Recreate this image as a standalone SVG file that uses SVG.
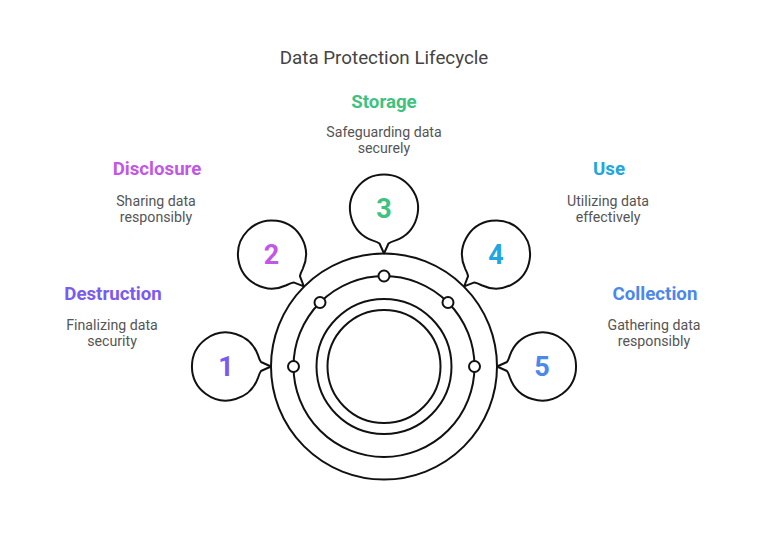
<svg xmlns="http://www.w3.org/2000/svg" width="768" height="536" viewBox="0 0 768 536">
<defs>
<style>
.ring{fill:none;stroke:#111;stroke-width:2}
.dot{fill:#fff;stroke:#111;stroke-width:2}
.bub{fill:#fff;stroke:#111;stroke-width:2;stroke-linejoin:round}
.num{font-family:Roboto,"Liberation Sans",sans-serif;font-weight:700;font-size:27px;text-anchor:middle}
.head{font-family:Roboto,"Liberation Sans",sans-serif;font-weight:700;font-size:18.7px;text-anchor:middle}
.desc{font-family:Roboto,"Liberation Sans",sans-serif;font-size:14.2px;fill:#555;text-anchor:middle}
.title{font-family:Roboto,"Liberation Sans",sans-serif;font-size:18.8px;fill:#444;text-anchor:middle}
</style>
<path id="bubble" d="M31.9,-11.6 Q33.5,-6.5 35,-4.5 L45,0 L35,4.5 Q33.5,6.5 31.9,11.6 A34 34 0 1 1 31.9,-11.6 Z"/>
</defs>
<rect width="768" height="536" fill="#fff"/>
<text class="title" x="384" y="64">Data Protection Lifecycle</text>

<g id="rings">
<circle class="ring" cx="384" cy="366.5" r="113"/>
<circle class="ring" cx="384" cy="366.5" r="90.5"/>
<circle class="ring" cx="384" cy="366.5" r="67.5"/>
<circle class="ring" cx="384" cy="366.5" r="56.5"/>
</g>
<g id="connectors">
<circle class="dot" cx="293.5" cy="366.5" r="5.5"/>
<circle class="dot" cx="320" cy="302.5" r="5.5"/>
<circle class="dot" cx="384" cy="276" r="5.5"/>
<circle class="dot" cx="448" cy="302.5" r="5.5"/>
<circle class="dot" cx="474.5" cy="366.5" r="5.5"/>
</g>

<g id="node1">
<use href="#bubble" class="bub" transform="translate(226,366.5)"/>
<text class="num" x="226" y="376" fill="#7a5af0">1</text>
<text class="head" x="113" y="300" fill="#7a5af0">Destruction</text>
<text class="desc" x="112" y="329.5">Finalizing data</text>
<text class="desc" x="112" y="346">security</text>
</g>
<g id="node2">
<use href="#bubble" class="bub" transform="translate(272,254.5) rotate(45)"/>
<text class="num" x="271.5" y="264" fill="#c157e6">2</text>
<text class="head" x="157" y="175" fill="#c157e6">Disclosure</text>
<text class="desc" x="156" y="205.5">Sharing data</text>
<text class="desc" x="156" y="221.5">responsibly</text>
</g>
<g id="node3">
<use href="#bubble" class="bub" transform="translate(384,208.5) rotate(90)"/>
<text class="num" x="384" y="218" fill="#3ec27f">3</text>
<text class="head" x="384" y="108" fill="#3ec27f">Storage</text>
<text class="desc" x="384" y="136.5">Safeguarding data</text>
<text class="desc" x="384" y="153">securely</text>
</g>
<g id="node4">
<use href="#bubble" class="bub" transform="translate(496,254.5) rotate(135)"/>
<text class="num" x="496" y="264" fill="#20a6e0">4</text>
<text class="head" x="609" y="175" fill="#20a6e0">Use</text>
<text class="desc" x="608" y="205.5">Utilizing data</text>
<text class="desc" x="608" y="221.5">effectively</text>
</g>
<g id="node5">
<use href="#bubble" class="bub" transform="translate(542,366.5) rotate(180)"/>
<text class="num" x="542" y="376" fill="#4b88ea">5</text>
<text class="head" x="655" y="300" fill="#4b88ea">Collection</text>
<text class="desc" x="654" y="329.5">Gathering data</text>
<text class="desc" x="654" y="346">responsibly</text>
</g>
</svg>
